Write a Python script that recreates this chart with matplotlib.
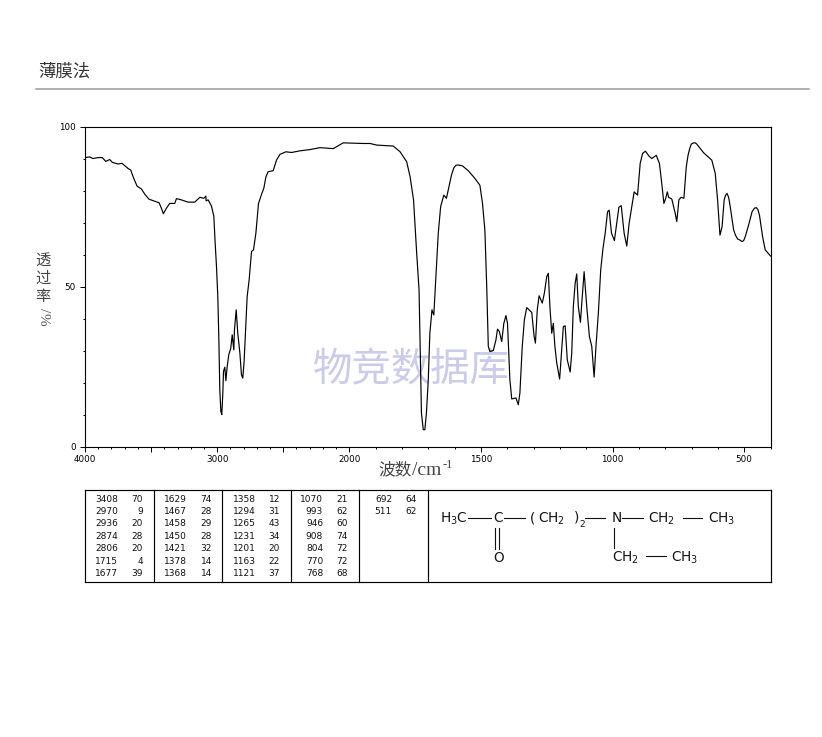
import numpy as np
import matplotlib
matplotlib.use("Agg")
import matplotlib.pyplot as plt
from matplotlib.lines import Line2D

CJK = ['Noto Sans CJK SC', 'DejaVu Sans']
plt.rcParams['mathtext.default'] = 'regular'

title = '薄膜法'
watermark = '物竞数据库'
ylabel_chars = ['透', '过', '率']

wavenumber = [4000,3965,3939,3902,3869,3843,3813,3793,3750,3720,3674,3654,3631,3606,3573,3548,3515,3480,3439,3422,3407,3384,3359,3321,3308,3270,3220,3169,3131,3101,3085,3084,3068,3043,3025,3015,3005,2995,2987,2980,2972,2965,2957,2952,2942,2934,2924,2912,2897,2886,2874,2869,2856,2844,2828,2816,2806,2796,2786,2773,2758,2740,2725,2707,2687,2662,2647,2631,2614,2576,2551,2525,2480,2437,2374,2298,2222,2121,2046,1947,1921,1896,1833,1807,1782,1769,1756,1744,1735,
1726,1719,1713,1707,1700,1694,1686,1679,1671,1662,1653,1641,1631,1623,1612,1603,1595,1586,1570,1548,1523,1504,1494,1485,1478,1472,1466,1453,1443,1437,1430,1421,1413,1405,1399,1390,1383,1367,1358,1352,1343,1335,1326,1307,1298,1293,1286,1279,1267,1259,1250,1244,1238,1231,1225,1219,1212,1201,1193,1187,1180,1172,1161,1155,1149,1142,1136,1130,1122,1116,1108,1098,1088,1079,1070,1063,1054,1045,1037,1028,1019,1013,1004,993,984,976,967,956,946,937,927,918,905,895,886,875,862,851,834,822,813,805,798,792,787,775,762,756,748,740,729,720,713,707,701,692,686,680,654,623,610,601,592,584,576,571,565,559,553,540,533,525,517,508,502,496,483,470,461,454,448,442,430,420,400]
transmittance = [90.3,90.5,90.0,90.3,90.3,89.1,89.7,88.8,88.3,88.5,86.9,86.4,83.8,81.4,80.5,78.9,77.3,76.8,76.2,74.5,72.8,74.5,76.0,76.0,77.5,77.1,76.4,76.4,77.9,77.6,78.3,76.8,77.1,75.2,71.9,63.6,56.3,46.9,33.4,17.9,11.1,10.1,16.8,23.6,24.9,20.7,25.1,28.8,30.8,35.0,30.3,36.6,42.8,35.5,29.3,22.5,21.5,26.7,35.5,46.9,52.1,61.0,61.5,66.7,76.0,79.1,80.7,84.3,85.9,86.2,89.5,91.3,92.1,91.9,92.4,92.8,93.4,93.1,94.9,94.7,94.7,94.2,93.9,92.1,89.0,84.3,77.1,60.4,49.0,
10.6,5.4,5.4,10.6,21.0,35.5,42.8,41.2,53.2,66.7,75.0,78.6,77.6,80.7,84.8,87.1,87.9,88.0,87.7,86.2,83.8,81.7,76.0,67.7,50.1,31.4,29.8,30.1,33.4,36.8,36.0,32.9,38.6,41.0,38.6,21.0,15.0,15.3,13.2,16.8,31.4,39.7,43.5,42.0,34.5,32.4,42.8,47.2,44.9,48.0,53.2,54.2,43.8,35.5,38.6,31.4,26.2,21.2,30.3,37.6,37.8,27.2,23.4,29.3,43.8,51.1,54.0,43.8,38.9,45.9,54.7,43.8,34.5,31.4,21.8,31.4,41.7,55.2,61.5,66.7,73.4,73.9,66.7,64.4,69.8,74.8,75.3,66.7,62.7,69.8,75.0,79.6,78.6,88.5,91.6,92.3,90.8,90.0,91.0,88.5,82.2,76.0,77.6,79.6,77.9,77.4,72.9,70.3,77.1,77.9,77.6,87.4,91.1,93.1,94.5,94.9,94.9,94.5,91.8,89.5,85.4,77.1,66.1,68.7,77.1,78.5,79.1,77.9,75.0,67.7,66.1,64.9,64.6,64.1,64.4,65.6,69.3,73.4,74.5,74.7,74.1,72.4,65.6,61.5,59.6]

x_major = [4000,3500,3000,2500,2000,1500,1000,500]
x_labelled = [4000,3000,2000,1500,1000,500]
y_major = [0,50,100]

peak_columns = [
    [(3408,70),(2970,9),(2936,20),(2874,28),(2806,20),(1715,4),(1677,39)],
    [(1629,74),(1467,28),(1458,29),(1450,28),(1421,32),(1378,14),(1368,14)],
    [(1358,12),(1294,31),(1265,43),(1231,34),(1201,20),(1163,22),(1121,37)],
    [(1070,21),(993,62),(946,60),(908,74),(804,72),(770,72),(768,68)],
    [(692,64),(511,62)],
]

W, H = 822, 737
fig = plt.figure(figsize=(W/100, H/100), dpi=100, facecolor='white')

# pixel-coordinate layer for page furniture
bg = fig.add_axes([0, 0, 1, 1], zorder=-1)
bg.set_xlim(0, W); bg.set_ylim(H, 0); bg.axis('off')

bg.text(38, 72, title, family=CJK, fontsize=12.5, color='#333333', ha='left', va='center')
bg.add_line(Line2D([36, 809], [88.5, 88.5], color='#999999', lw=1.1))
bg.text(411.5, 369, watermark, family=CJK, fontsize=28.4, color='#cbcbea', ha='center', va='center')

# y label (stacked)
for ch, yy in zip(ylabel_chars, [260, 278, 296]):
    bg.text(43, yy, ch, family=CJK, fontsize=11, color='#444444', ha='center', va='center')
bg.text(43, 310.5, '/', family='Liberation Serif', fontsize=11, color='#555555', ha='center', va='center', rotation=-90)
bg.text(43, 319, '%', family='Liberation Serif', fontsize=11, color='#555555', ha='center', va='center', rotation=-90)

# x label
bg.text(378, 470, '波数', family=CJK, fontsize=12, color='#444444', ha='left', va='center')
bg.text(412, 470, '/cm', family='Liberation Serif', fontsize=14, color='#444444', ha='left', va='center')
bg.text(443, 464.5, '-1', family='Liberation Serif', fontsize=9, color='#444444', ha='left', va='center')

# main spectrum axes
def forward(w):
    w = np.asarray(w, dtype=float)
    return np.where(w <= 2000, w, 2000 + (w - 2000) * 0.502)

def inverse(v):
    v = np.asarray(v, dtype=float)
    return np.where(v <= 2000, v, 2000 + (v - 2000) / 0.502)

L, R, T, B = 85, 770.5, 126.5, 447
ax = fig.add_axes([L/W, 1 - B/H, (R-L)/W, (B-T)/H], facecolor='none')
ax.set_xscale('function', functions=(forward, inverse))
ax.plot(wavenumber, transmittance, color='black', lw=0.85)
ax.set_xlim(4000, 400)
ax.set_ylim(0, 100)
ax.set_xticks(x_major)
ax.set_xticklabels([str(v) if v in x_labelled else '' for v in x_major])
ax.set_xticks(np.arange(400, 4001, 100), minor=True)
ax.set_yticks(y_major)
ax.set_yticks(np.arange(0, 101, 10), minor=True)
ax.tick_params(axis='both', which='major', length=3.8, width=0.7, labelsize=6.3, colors='black')
ax.tick_params(axis='x', which='major', pad=1.8)
ax.tick_params(axis='y', which='major', pad=3)
ax.tick_params(axis='both', which='minor', length=1.6, width=0.7)
for s in ax.spines.values():
    s.set_linewidth(0.8)

# peak table
tb_top, tb_bot = 490.3, 582.3
tb_x = [85, 154.3, 222.3, 291.3, 359.3, 428.3, 770.7]
for xx in tb_x:
    bg.add_line(Line2D([xx, xx], [tb_top, tb_bot], color='black', lw=0.85))
for yy in (tb_top, tb_bot):
    bg.add_line(Line2D([tb_x[0], tb_x[-1]], [yy, yy], color='black', lw=0.85))

rows_y = [499, 511.3, 524, 536.3, 548.3, 561, 573.3]
col_right = [(118, 143), (187, 212), (256, 280), (323, 348), (392, 417)]
for col, (xa, xb) in zip(peak_columns, col_right):
    for (wn, tv), yy in zip(col, rows_y):
        bg.text(xa, yy, str(wn), fontsize=6.5, ha='right', va='center', color='#111111')
        bg.text(xb, yy, str(tv), fontsize=6.5, ha='right', va='center', color='#111111')

# structure formula
sfs = 9.8
def atom(x, y, s, ha='left'):
    bg.text(x, y, s, fontsize=sfs, ha=ha, va='center', color='#111111')
def bond(x0, y0, x1, y1):
    bg.add_line(Line2D([x0, x1], [y0, y1], color='#111111', lw=0.8))

atom(440, 518.5, 'H$_3$C')
bond(468, 518, 491, 518)
atom(493, 518.5, 'C')
bond(504, 518, 525, 518)
atom(530, 518.5, '(')
atom(538, 518.5, 'CH$_2$')
atom(574, 517.5, ')')
bg.text(579.5, 524.5, '2', fontsize=6.5, ha='left', va='center', color='#111111')
bond(585, 518, 605, 518)
atom(612, 518.5, 'N')
bond(622, 518, 643, 518)
atom(648, 518.5, 'CH$_2$')
bond(683, 518, 702, 518)
atom(708, 518.5, 'CH$_3$')
bond(614, 528, 614, 548)
atom(612, 557.5, 'CH$_2$')
bond(646, 556, 666, 556)
atom(671, 557.5, 'CH$_3$')
bond(495, 528, 495, 549)
bond(498.5, 528, 498.5, 549)
atom(493, 557.5, 'O')

fig.savefig('out.png', dpi=100)
